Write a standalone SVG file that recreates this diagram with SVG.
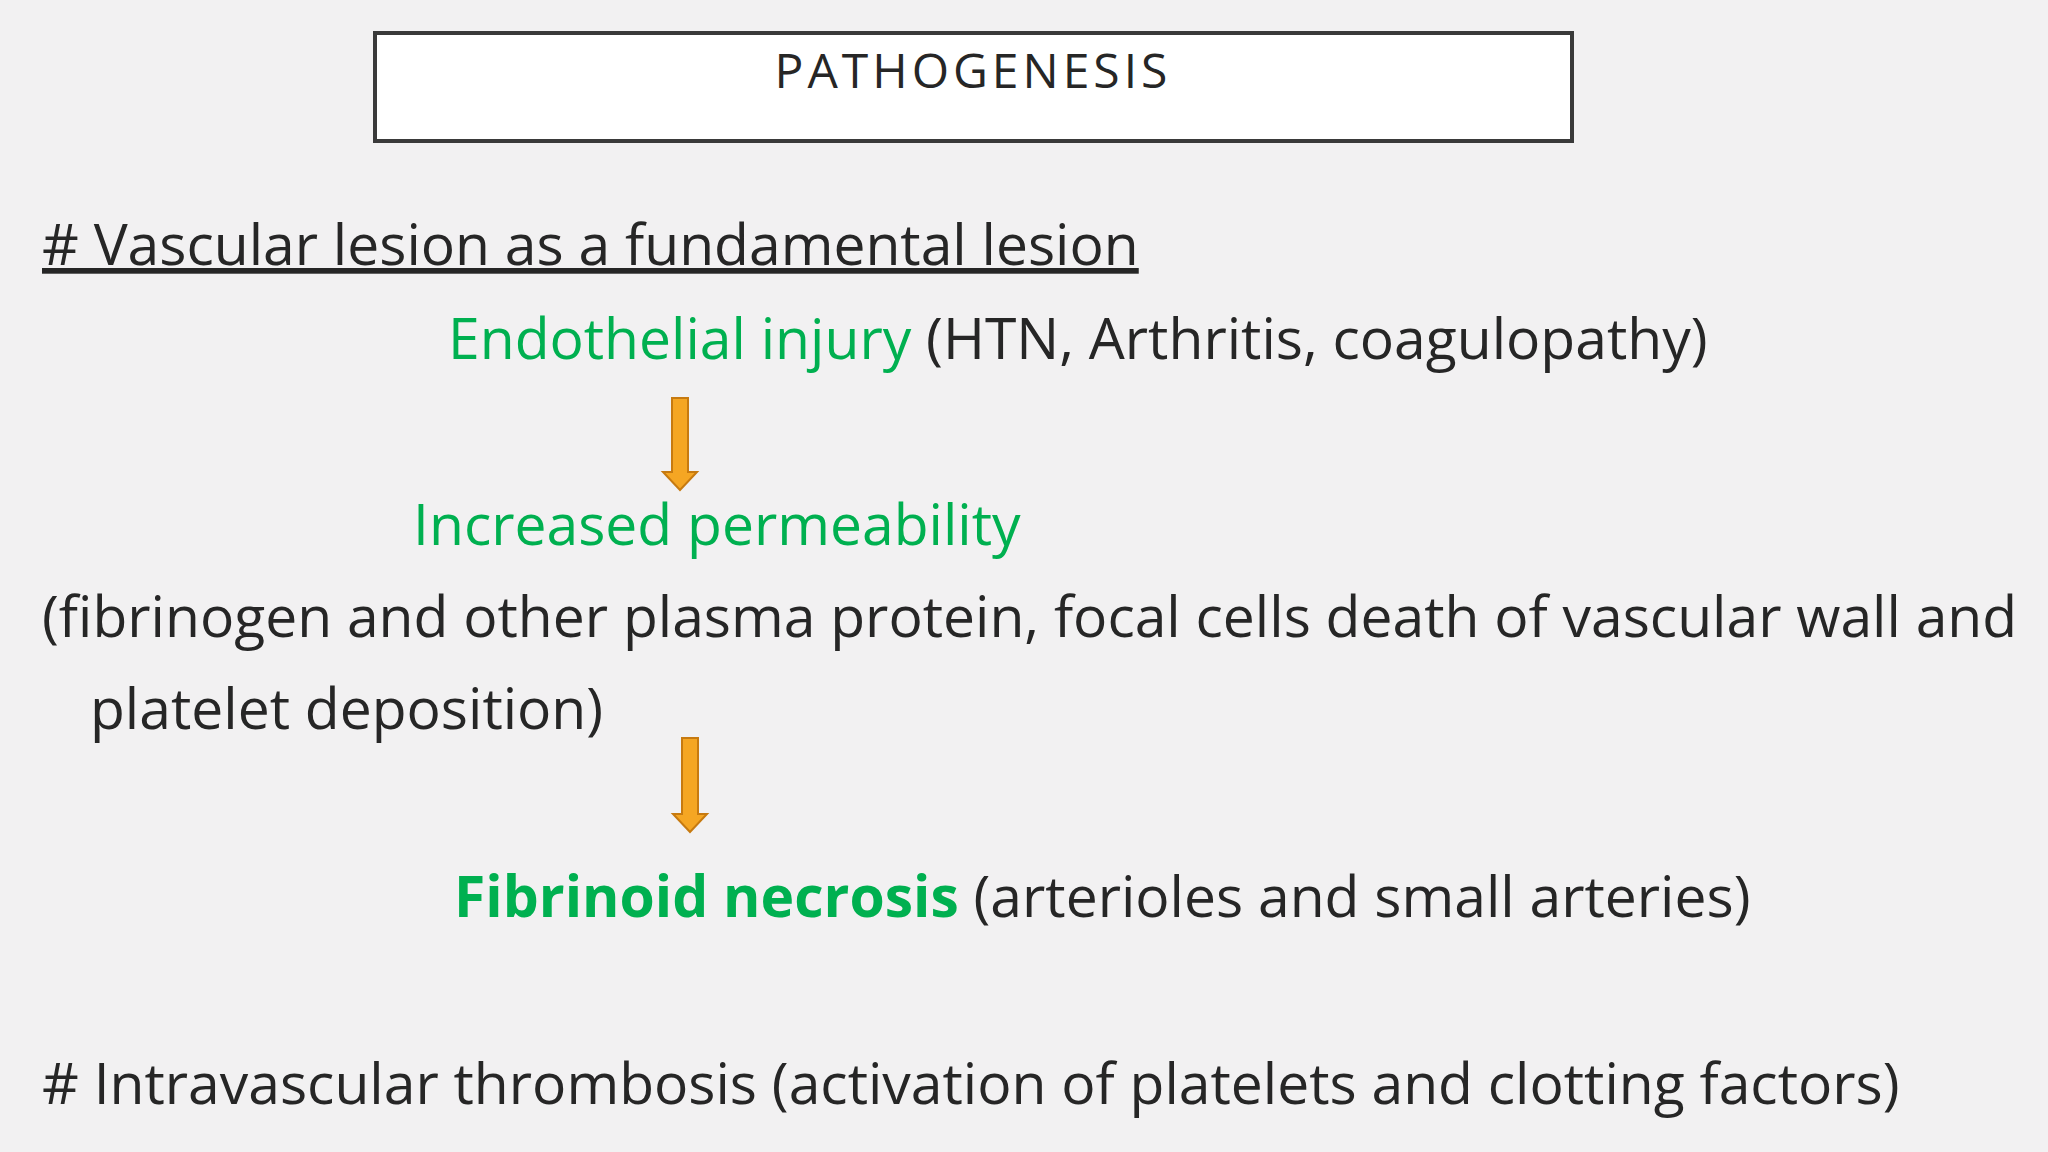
<svg xmlns="http://www.w3.org/2000/svg" width="2048" height="1152" viewBox="0 0 2048 1152">
<style>
.t{font-family:"Open Sans","Noto Sans",sans-serif;font-size:57px;fill:#262626}
.g{fill:#00B050}
.arr{fill:#F5A623;stroke:#C77A10;stroke-width:2}
</style>
<rect width="2048" height="1152" fill="#F2F1F2"/>
<g id="title"><rect x="375" y="33" width="1197" height="108" fill="#fff" stroke="#3a3a3a" stroke-width="4"/>
<text x="973" y="88" text-anchor="middle" class="t" style="font-size:48px;letter-spacing:4px">PATHOGENESIS</text></g>
<g id="heading1"><text x="42" y="265" class="t" text-decoration="underline">#  Vascular lesion as a fundamental lesion</text></g>
<g id="endo"><text x="448" y="359" class="t"><tspan class="g">Endothelial injury</tspan>  (HTN, Arthritis, coagulopathy)</text></g>
<g id="perm"><text x="413" y="545" class="t g">Increased permeability</text></g>
<g id="desc"><text x="42" y="637" class="t">(fibrinogen and other plasma protein, focal cells death of vascular wall and</text>
<text x="90" y="729" class="t">platelet deposition)</text></g>
<g id="necrosis"><text x="454" y="917" class="t"><tspan class="g" font-weight="bold">Fibrinoid necrosis</tspan> (arterioles and small arteries)</text></g>
<g id="heading2"><text x="42" y="1104" class="t"># Intravascular thrombosis (activation of platelets and clotting factors)</text></g>
<g id="connectors">
<path class="arr" d="M672 398 H688 V472 H697 L680 490 L663 472 H672 Z"/>
<path class="arr" d="M682 738 H698 V814 H707 L690 832 L673 814 H682 Z"/>
</g>
</svg>
